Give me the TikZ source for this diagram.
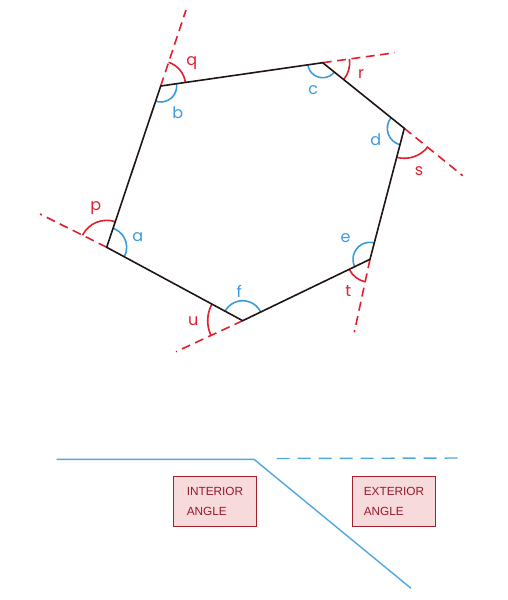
\documentclass[tikz,border=0pt]{standalone}
\usepackage{fontspec}
\setmainfont{Liberation Sans}
\newfontfamily\labelfont{Poppins}
\usetikzlibrary{angles}
\definecolor{edgec}{HTML}{201414}
\definecolor{extc}{HTML}{E21F2D}
\definecolor{intc}{HTML}{3C9BDC}
\definecolor{lnc}{HTML}{4EA8E2}
\definecolor{boxfill}{HTML}{F6DADC}
\definecolor{boxdraw}{HTML}{A3202C}
\definecolor{boxtext}{HTML}{981A2A}
\tikzset{
  edge/.style={draw=edgec, line width=1.6pt, line join=round},
  extline/.style={draw=extc, line width=1.6pt, dash pattern=on 9pt off 5.5pt},
  extarc/.style={draw=extc, line width=1.6pt},
  intarc/.style={draw=intc, line width=1.6pt},
  extlab/.style={text=extc, font=\labelfont\fontsize{16}{16}\selectfont, inner sep=0pt},
  intlab/.style={text=intc, font=\labelfont\fontsize{16}{16}\selectfont, inner sep=0pt},
  bline/.style={draw=lnc, line width=1.4pt},
  labbox/.style={draw=boxdraw, fill=boxfill, line width=0.9pt, minimum width=83pt, minimum height=50pt, align=left, text=boxtext, font=\fontsize{11.8}{20}\selectfont, inner sep=0pt}
}
\begin{document}
\begin{tikzpicture}[x=1pt,y=1pt]
\useasboundingbox (0,-600) rectangle (507,0);
% vertices
\coordinate (A) at (106.7,-247.3);
\coordinate (B) at (160.7,-86);
\coordinate (C) at (322.7,-62.7);
\coordinate (D) at (404.3,-128.3);
\coordinate (E) at (370,-259.3);
\coordinate (F) at (242.7,-320.7);
% extension ends
\coordinate (Ax) at (40,-214);
\coordinate (Bx) at (186,-10);
\coordinate (Cx) at (395,-52.7);
\coordinate (Dx) at (462.7,-175.7);
\coordinate (Ex) at (354.3,-332.3);
\coordinate (Fx) at (176,-351.7);
% extensions
\draw[extline] (A) -- (Ax);
\draw[extline] (B) -- (Bx);
\draw[extline] (C) -- (Cx);
\draw[extline] (D) -- (Dx);
\draw[extline] (E) -- (Ex);
\draw[extline] (F) -- (Fx);
% interior arcs
\pic[intarc, angle radius=20pt] {angle = F--A--B};
\pic[intarc, angle radius=16pt] {angle = A--B--C};
\pic[intarc, angle radius=15pt] {angle = B--C--D};
\pic[intarc, angle radius=17pt] {angle = C--D--E};
\pic[intarc, angle radius=17pt] {angle = D--E--F};
\pic[intarc, angle radius=20pt] {angle = E--F--A};
% exterior arcs
\pic[extarc, angle radius=27pt] {angle = B--A--Ax};
\pic[extarc, angle radius=25pt] {angle = C--B--Bx};
\pic[extarc, angle radius=27pt] {angle = D--C--Cx};
\pic[extarc, angle radius=30pt] {angle = E--D--Dx};
\pic[extarc, angle radius=23pt] {angle = F--E--Ex};
\pic[extarc, angle radius=35pt] {angle = A--F--Fx};
% polygon
\draw[edge] (A) -- (B) -- (C) -- (D) -- (E) -- (F) -- cycle;
% labels
\node[extlab] (lp) at (95.7,-208.3) {p};
\node[extlab] (lq) at (191.7,-63.3) {q};
\node[extlab] (lr) at (361,-74) {r};
\node[extlab] (ls) at (419,-170.7) {s};
\node[extlab] (lt) at (348.3,-290.7) {t};
\node[extlab] (lu) at (193.3,-320.7) {u};
\node[intlab] (la) at (137.7,-236.7) {a};
\node[intlab] (lb) at (177.7,-112.3) {b};
\node[intlab] (lc) at (313.3,-90) {c};
\node[intlab] (ld) at (375.7,-139.3) {d};
\node[intlab] (le) at (345.7,-238) {e};
\node[intlab] (lf) at (239.3,-291.7) {f};
% bottom legend
\coordinate (L1) at (56.7,-459.3);
\coordinate (V) at (254,-459.3);
\coordinate (Ds) at (276.7,-458.5);
\coordinate (L2) at (463.3,-458);
\coordinate (L3) at (411,-588.3);
\draw[bline] (L1) -- (V) -- (L3);
\draw[bline, dash pattern=on 13pt off 8pt] (Ds) -- (L2);
\node[labbox] (ib) at (215,-501.7) {INTERIOR\\ANGLE};
\node[labbox] (eb) at (394,-501.7) {EXTERIOR\\ANGLE};
\end{tikzpicture}
\end{document}
